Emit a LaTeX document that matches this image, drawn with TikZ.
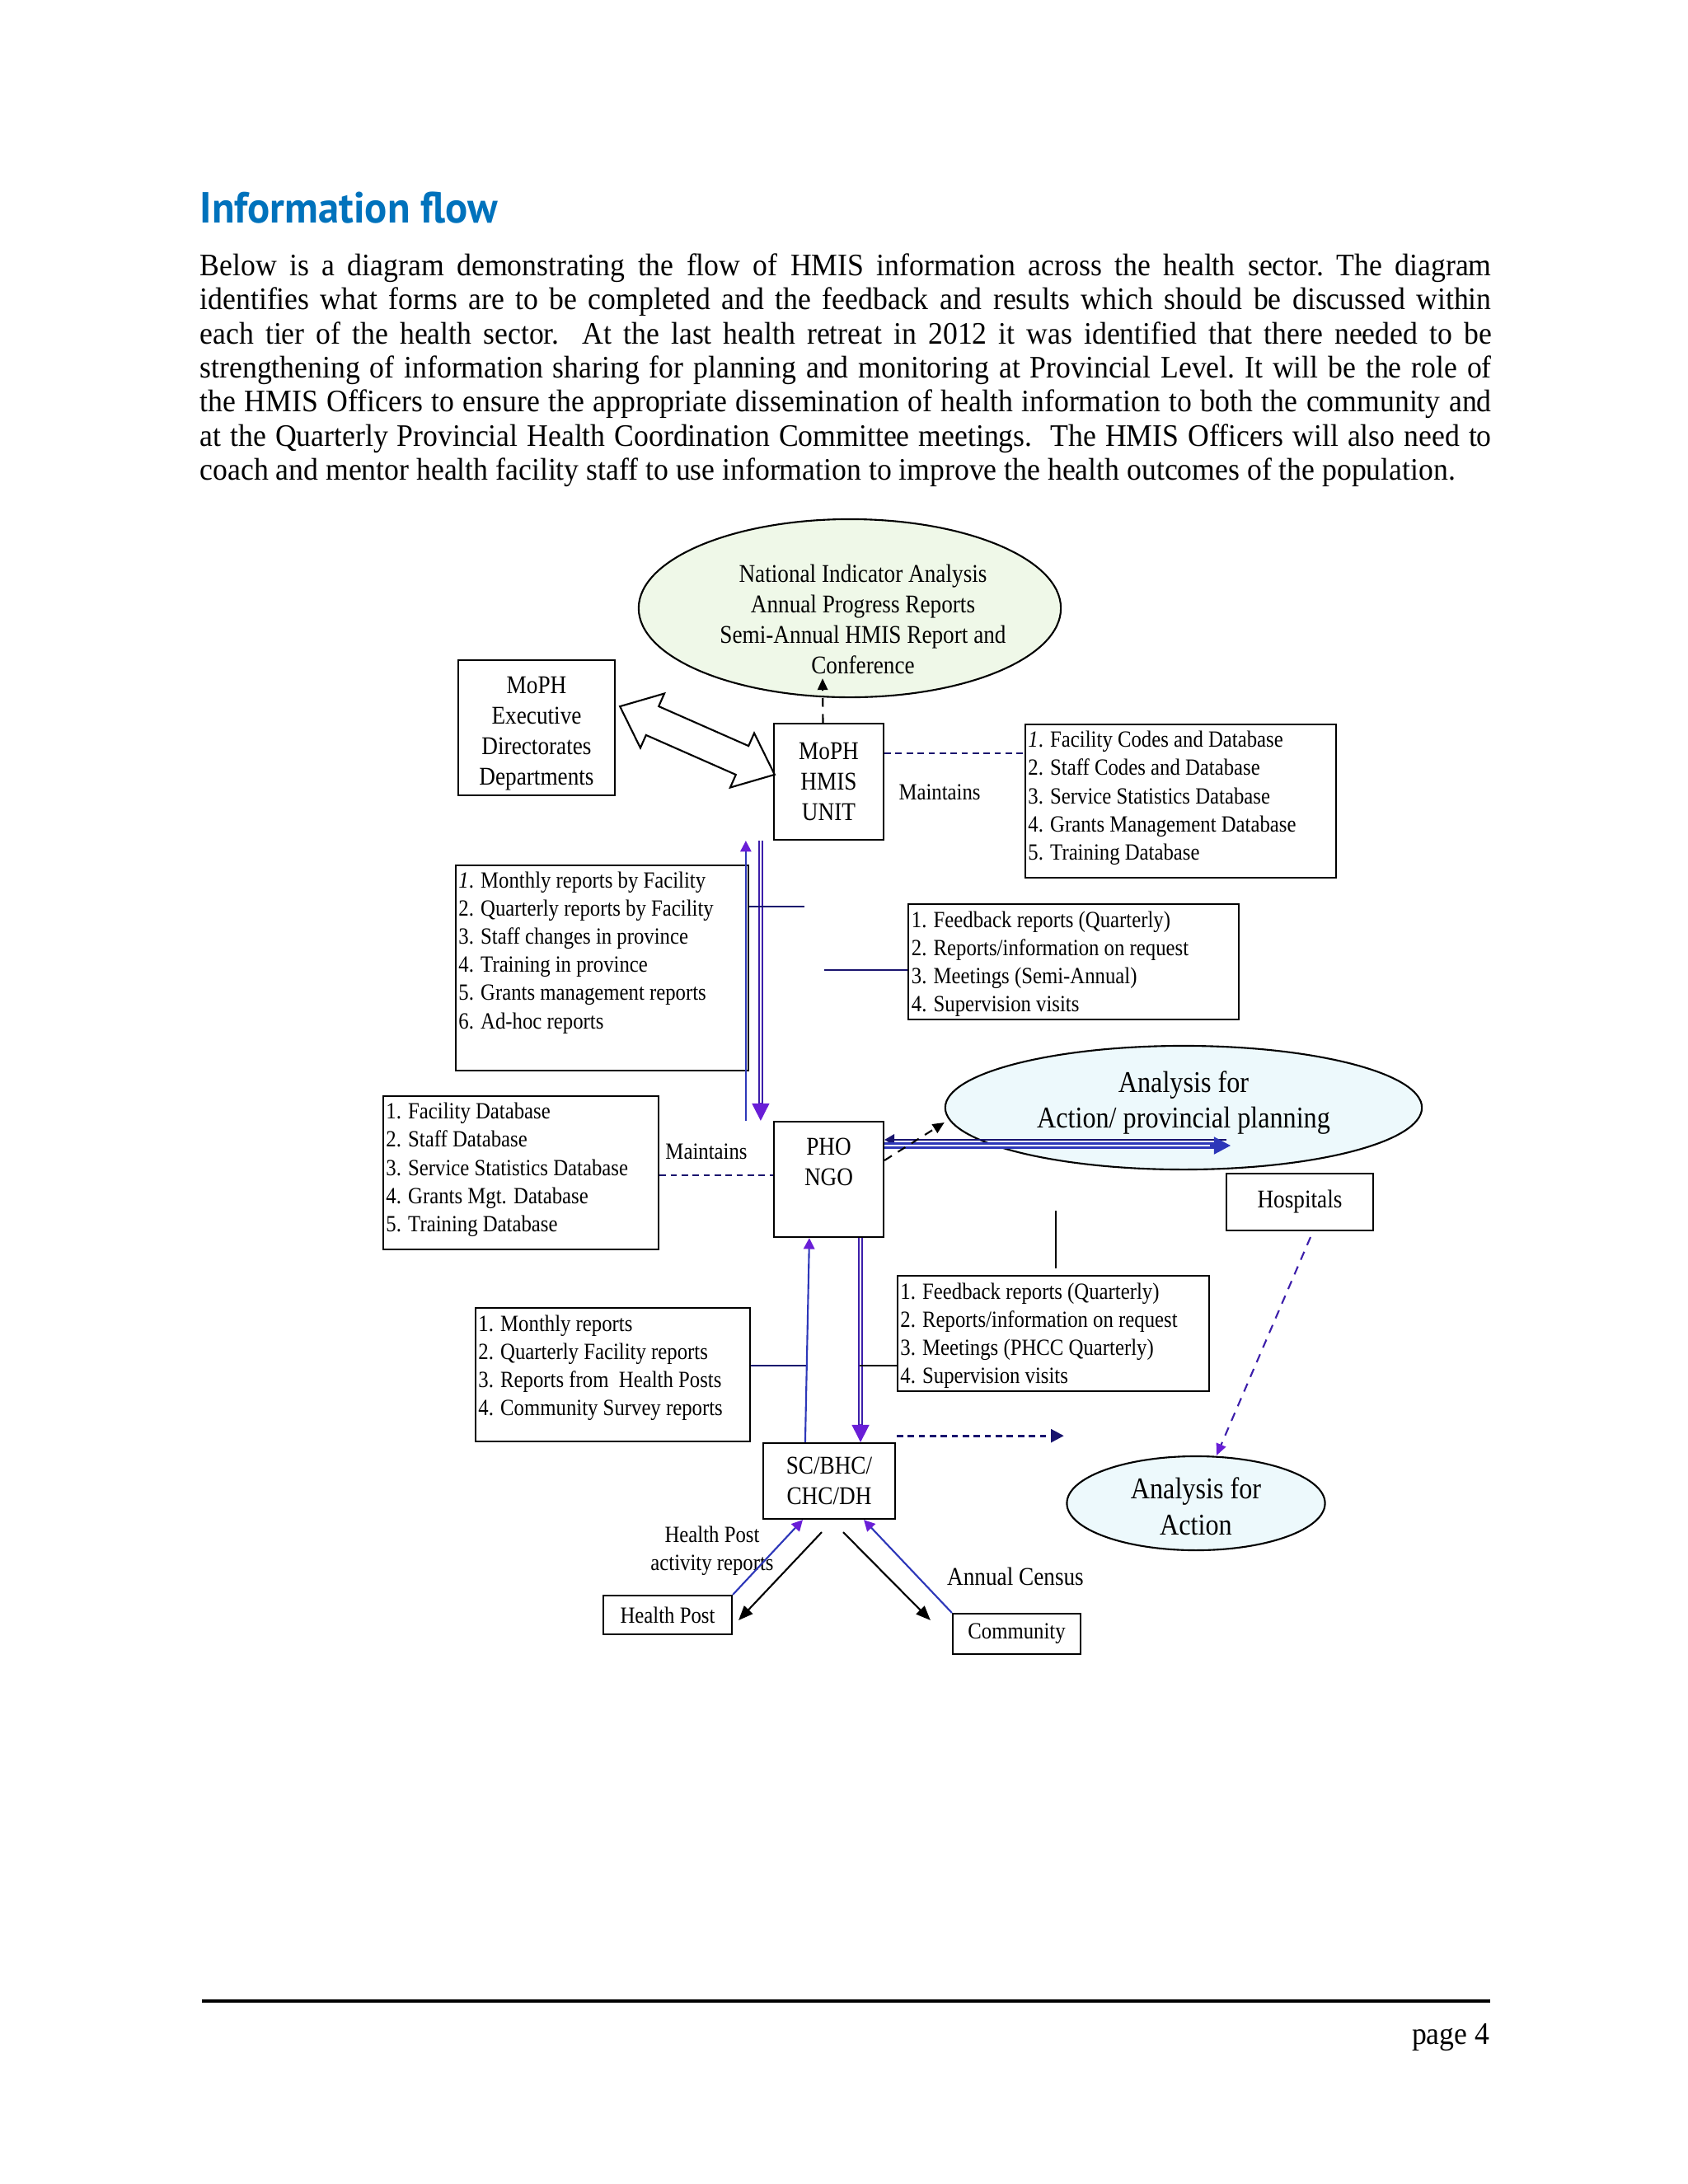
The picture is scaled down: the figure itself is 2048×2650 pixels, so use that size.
\documentclass[tikz,border=0pt]{standalone}
\usepackage{fontspec}
\usetikzlibrary{shapes.geometric,shapes.arrows,arrows.meta,calc}
\setmainfont{Liberation Serif}[FakeStretch=0.88]
\newfontfamily\bodyfont{Liberation Serif}[FakeStretch=0.94]
\newfontfamily\headfont{PT Sans}[FakeStretch=0.96]
\definecolor{headblue}{RGB}{0,114,188}
\definecolor{greenfill}{RGB}{239,248,232}
\definecolor{bluefill}{RGB}{237,249,252}
\definecolor{navyline}{RGB}{25,20,110}
\definecolor{flowblue}{RGB}{45,55,185}
\definecolor{flowviolet}{RGB}{105,30,215}
\definecolor{dblcol}{RGB}{60,30,170}

\def\ux{0.01cm}
\def\uy{-0.01cm}
\def\fsA{\fontsize{8.8}{10.5}\selectfont}
\def\fsB{\fontsize{8}{9.67}\selectfont}
\def\fsC{\fontsize{10.4}{12.4}\selectfont}
\def\fsT{\bodyfont\fontsize{10.8}{11.75}\selectfont}
\newcommand{\lbox}[3]{\parbox[c][#2][t]{#1}{\fsB\leftskip=1pt\vspace*{1.2pt}\strut#3}}
\newcommand{\lowered}[3][0pt]{\raisebox{-#2}[0pt][0pt]{\makebox[0pt]{\hspace*{#1}\begin{tabular}{@{}c@{}}#3\end{tabular}}}}

\begin{document}
\begin{tikzpicture}[x=\ux,y=\uy, font=\fsA,
    box/.style={draw, line width=0.6pt, inner sep=0pt, align=center, fill=white},
    lst/.style={draw, line width=0.6pt, inner sep=0pt, fill=white},
    oval/.style={ellipse, draw, line width=0.6pt, inner sep=0pt, align=center},
    dblock/.style={double arrow, draw, line width=0.6pt, fill=white, inner xsep=0pt, inner ysep=0.18cm,
      minimum height=2.05cm, minimum width=0.70cm, double arrow head extend=0.17cm,
      double arrow tip angle=80},
    dashar/.style={line width=0.6pt, dash pattern=on 3pt off 2.5pt, -{Triangle[length=4pt,width=3.5pt]}},
    navydash/.style={navyline, line width=0.7pt, dash pattern=on 2.2pt off 1.6pt},
    navyln/.style={navyline, line width=0.7pt},
    upline/.style={flowblue, line width=0.6pt, -{Triangle[length=3.8pt,width=3.8pt,color=flowviolet]}},
    dblshaft/.style={draw=dblcol, double=white, double distance=0.75pt, line width=0.4pt},
    bighead/.style={flowviolet, line width=0.4pt, -{Triangle[length=6pt,width=6pt]}},
    violetdash/.style={dblcol, line width=0.6pt, dash pattern=on 3pt off 2.5pt, -{Triangle[length=4pt,width=3.5pt,color=flowviolet]}},
    blkarr/.style={line width=0.6pt, -{Triangle[length=5pt,width=4pt]}}]

  \path[use as bounding box, fill=white] (0,0) rectangle (2048,2650);

  \node[anchor=base west, inner sep=0pt, text=headblue, font=\headfont\bfseries\fontsize{15}{18}\selectfont] (title) at (242,270) {Information flow};
  \node[anchor=north west, inner sep=0pt, text width=15.66cm, align=justify, font=\fsT] (intro) at (242,307)
    {\frenchspacing Below is a diagram demonstrating the flow of HMIS information across the health sector. The diagram\linebreak
     identifies what forms are to be completed and the feedback and results which should be discussed within\linebreak
     each tier of the health sector.\ \ At the last health retreat in 2012 it was identified that there needed to be\linebreak
     strengthening of information sharing for planning and monitoring at Provincial Level. It will be the role of\linebreak
     the HMIS Officers to ensure the appropriate dissemination of health information to both the community and\linebreak
     at the Quarterly Provincial Health Coordination Committee meetings.\ \ The HMIS Officers will also need to\linebreak
     coach and mentor health facility staff to use information to improve the health outcomes of the population.};

  \node[oval, fill=greenfill, minimum width=5.12cm, minimum height=2.16cm] (natell) at (1031,738)
    {\lowered[0.32cm]{7pt}{National Indicator Analysis\\Annual Progress Reports\\Semi-Annual HMIS Report and\\Conference}};
  \node[box, minimum width=1.90cm, minimum height=1.64cm] (exec) at (651,883) {\lowered{4.2pt}{MoPH\\Executive\\Directorates\\Departments}};
  \node[box, minimum width=1.33cm, minimum height=1.41cm] (hmis) at (1005.5,948.5) {MoPH\\HMIS\\UNIT};
  \node[lst] (codes) at (1432.5,972) {\lbox{3.77cm}{1.86cm}{\textit{1}. Facility Codes and Database\\2. Staff Codes and Database\\3. Service Statistics Database\\4. Grants Management Database\\5. Training Database}};
  \node[lst] (mrep) at (730.5,1174.5) {\lbox{3.55cm}{2.49cm}{\textit{1}. Monthly reports by Facility\\2. Quarterly reports by Facility\\3. Staff changes in province\\4. Training in province\\5. Grants management reports\\6. Ad-hoc reports}};
  \node[lst] (fbup) at (1302.5,1167) {\lbox{4.00cm}{1.40cm}{1. Feedback reports (Quarterly)\\2. Reports/information on request\\3. Meetings (Semi-Annual)\\4. Supervision visits}};
  \node[oval, fill=bluefill, font=\fsC, minimum width=5.78cm, minimum height=1.50cm] (provell) at (1436,1344) {\lowered{0.9pt}{Analysis for\\Action/ provincial planning}};
  \node[lst] (fdb) at (632,1423) {\lbox{3.34cm}{1.86cm}{1. Facility Database\\2. Staff Database\\3. Service Statistics Database\\4. Grants Mgt. Database\\5. Training Database}};
  \node[box] (pho) at (1005.5,1431) {\parbox[c][1.40cm][t]{1.33cm}{\centering\vspace*{4.3pt}\strut PHO\\NGO}};
  \node[box, minimum width=1.78cm, minimum height=0.69cm] (hosp) at (1577,1458.5) {Hospitals};
  \node[lst] (fbdown) at (1278,1618) {\lbox{3.78cm}{1.40cm}{1. Feedback reports (Quarterly)\\2. Reports/information on request\\3. Meetings (PHCC Quarterly)\\4. Supervision visits}};
  \node[lst] (mrepdown) at (743.5,1668) {\lbox{3.33cm}{1.62cm}{1. Monthly reports\\2. Quarterly Facility reports\\3. Reports from\ \ Health Posts\\4. Community Survey reports}};
  \node[box, minimum width=1.60cm, minimum height=0.92cm] (sc) at (1006,1797) {SC/BHC/\\CHC/DH};
  \node[oval, fill=bluefill, font=\fsC, minimum width=3.13cm, minimum height=1.14cm] (aell) at (1451,1824) {\lowered{4.7pt}{Analysis for\\Action}};
  \node[box, font=\fsB, minimum width=1.56cm, minimum height=0.47cm] (hp) at (810,1959.5) {Health Post};
  \node[box, font=\fsB, minimum width=1.55cm, minimum height=0.49cm] (comm) at (1233.5,1982.5) {Community};

  \node[font=\fsB] (maintA) at (1140,961) {Maintains};
  \node[font=\fsB] (maintB) at (857,1397) {Maintains};
  \node[font=\fsB, align=center] (hplab) at (864,1882) {Health Post\\activity reports};
  \node (census) at (1232,1913) {Annual Census};

  \node[dblock, rotate=-23.8] (xchg) at (846,898.5) {};

  \draw[dashar] ([xshift=-0.07cm]hmis.north) -- ([xshift=-0.33cm,yshift=0.24cm]natell.south);
  \draw[navydash] ([yshift=0.345cm]hmis.east) coordinate (hm) -- (hm -| codes.west);

  \draw[upline] ([xshift=-0.33cm]pho.north west) -- ([xshift=-0.33cm]hmis.south west);
  \draw[dblshaft] ([xshift=-0.15cm]hmis.south west) -- ([xshift=-0.15cm,yshift=0.2cm]pho.north west);
  \draw[bighead] ([xshift=-0.15cm,yshift=0.22cm]pho.north west) -- ([xshift=-0.15cm]pho.north west);
  \draw[navyln] ([yshift=0.745cm]mrep.east) -- ++(67,0);
  \draw[navyln] ([yshift=-0.10cm]fbup.west) -- ++(-101,0);

  \draw[navydash] ([yshift=-0.03cm]fdb.east) coordinate (fd) -- (fd -| pho.west);
  \coordinate (tripend) at (1493,1390);
  \draw[navyline, line width=0.6pt, {Triangle[length=3.4pt,width=3.8pt]}-, shorten >=1.4pt] ([yshift=0.48cm]pho.east) coordinate (t1) -- (t1 -| tripend);
  \draw[flowblue, line width=0.6pt, double=white, double distance=0.8pt, shorten >=5pt] ([yshift=0.41cm]pho.east) coordinate (t2) -- (t2 -| tripend);
  \draw[flowblue, -{Triangle[length=5.7pt,width=6pt]}] ($(tripend)+(-25,0)$) -- (tripend);
  \draw[dashar] ([yshift=0.23cm]pho.east) -- ([yshift=-0.18cm]provell.west);

  \draw[violetdash] ([xshift=0.13cm,yshift=-0.07cm]hosp.south) -- ([xshift=0.25cm]aell.north);
  \draw[line width=0.45pt] ([xshift=0.03cm,yshift=0.08cm]fbdown.north) -- ++(0,-70);

  \draw[navyln] ([yshift=0.11cm]mrepdown.east) -- ++(67,0);
  \draw[upline] ([xshift=0.52cm]sc.north west) -- ([xshift=0.44cm]pho.south west);
  \draw[dblshaft] ([xshift=-0.29cm]pho.south east) -- ([xshift=-0.43cm,yshift=0.2cm]sc.north east);
  \draw[bighead] ([xshift=-0.43cm,yshift=0.22cm]sc.north east) -- ([xshift=-0.43cm]sc.north east);
  \draw[line width=0.5pt] ([yshift=-0.39cm]fbdown.west) -- ++(-45,0);
  \draw[navydash, line width=0.9pt, -{Triangle[length=4.5pt,width=4.5pt]}] ([yshift=-0.53cm]fbdown.south west) -- ++(203,0);

  \draw[blkarr] ([xshift=-0.09cm,yshift=-0.15cm]sc.south) -- ([xshift=0.07cm,yshift=-0.31cm]hp.north east);
  \draw[upline] (hp.north east) -- ([xshift=-0.32cm]sc.south);
  \draw[blkarr] ([xshift=0.17cm,yshift=-0.15cm]sc.south) -- ([xshift=-0.26cm,yshift=-0.09cm]comm.north west);
  \draw[upline] (comm.north west) -- ([xshift=0.42cm]sc.south);

  \draw[line width=1.1pt] (245,2428) -- (1808,2428);
  \node[anchor=base east, inner sep=0pt, font=\fsT] (pagenum) at (1808,2480) {page 4};
\end{tikzpicture}
\end{document}
